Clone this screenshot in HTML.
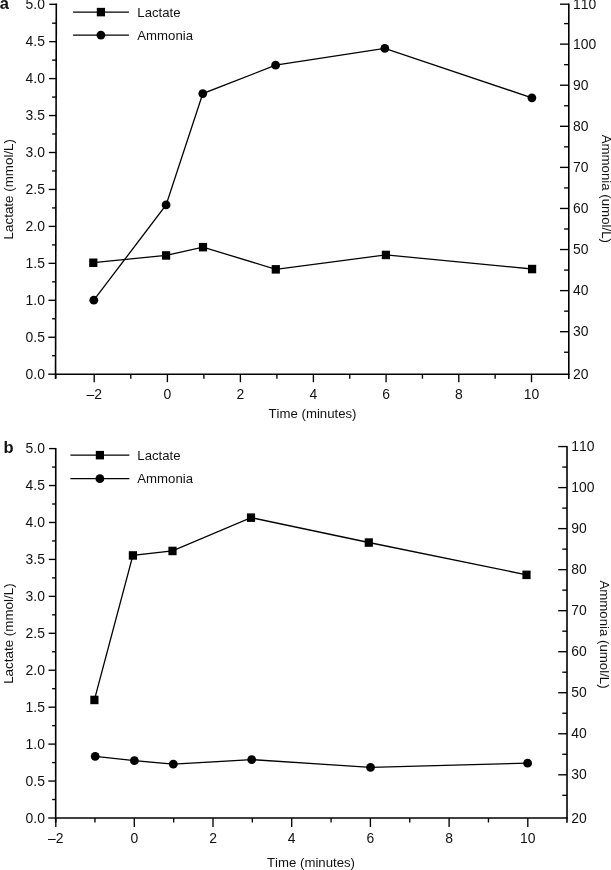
<!DOCTYPE html>
<html lang="en">
<head>
<meta charset="utf-8">
<title>Lactate and Ammonia over time</title>
<style>
html,body{margin:0;padding:0;background:#fff;}
body{width:611px;height:870px;overflow:hidden;}
svg{display:block;}
svg text{font-family:"Liberation Sans",Arial,Helvetica,sans-serif;font-size:13.2px;fill:#111;font-kerning:none;}
svg text.tk{font-size:13.9px;}
svg text.ti{font-size:13.4px;}
svg text.tr{font-size:13.25px;}
</style>
</head>
<body>
<svg width="611" height="870" viewBox="0 0 611 870" stroke="#000">
<rect x="0" y="0" width="611" height="870" fill="#fff" stroke="none"/>
<g stroke="#000" fill="#111">
<line x1="56.3" y1="3.62" x2="55.55" y2="378.7" stroke-width="1.6" stroke-linecap="butt"/>
<line x1="568.8" y1="3.53" x2="568.8" y2="379" stroke-width="1.6" stroke-linecap="butt"/>
<line x1="54.85" y1="374.2" x2="569.5" y2="374.2" stroke-width="1.6" stroke-linecap="butt"/>
<line x1="48.2" y1="374.2" x2="55.85" y2="374.2" stroke-width="1.35" stroke-linecap="butt"/>
<text stroke="none" x="44.9" y="378.8" text-anchor="end" class="tk">0.0</text>
<line x1="52.1" y1="355.72" x2="55.89" y2="355.72" stroke-width="1.35" stroke-linecap="butt"/>
<line x1="48.31" y1="337.25" x2="55.92" y2="337.25" stroke-width="1.35" stroke-linecap="butt"/>
<text stroke="none" x="44.9" y="341.85" text-anchor="end" class="tk">0.5</text>
<line x1="52.1" y1="318.77" x2="55.96" y2="318.77" stroke-width="1.35" stroke-linecap="butt"/>
<line x1="48.42" y1="300.3" x2="56" y2="300.3" stroke-width="1.35" stroke-linecap="butt"/>
<text stroke="none" x="44.9" y="304.9" text-anchor="end" class="tk">1.0</text>
<line x1="52.1" y1="281.82" x2="56.04" y2="281.82" stroke-width="1.35" stroke-linecap="butt"/>
<line x1="48.53" y1="263.35" x2="56.07" y2="263.35" stroke-width="1.35" stroke-linecap="butt"/>
<text stroke="none" x="44.9" y="267.95" text-anchor="end" class="tk">1.5</text>
<line x1="52.1" y1="244.88" x2="56.11" y2="244.88" stroke-width="1.35" stroke-linecap="butt"/>
<line x1="48.64" y1="226.4" x2="56.15" y2="226.4" stroke-width="1.35" stroke-linecap="butt"/>
<text stroke="none" x="44.9" y="231" text-anchor="end" class="tk">2.0</text>
<line x1="52.1" y1="207.92" x2="56.19" y2="207.92" stroke-width="1.35" stroke-linecap="butt"/>
<line x1="48.75" y1="189.45" x2="56.22" y2="189.45" stroke-width="1.35" stroke-linecap="butt"/>
<text stroke="none" x="44.9" y="194.05" text-anchor="end" class="tk">2.5</text>
<line x1="52.1" y1="170.97" x2="56.26" y2="170.97" stroke-width="1.35" stroke-linecap="butt"/>
<line x1="48.86" y1="152.5" x2="56.3" y2="152.5" stroke-width="1.35" stroke-linecap="butt"/>
<text stroke="none" x="44.9" y="157.1" text-anchor="end" class="tk">3.0</text>
<line x1="52.1" y1="134.02" x2="56.34" y2="134.02" stroke-width="1.35" stroke-linecap="butt"/>
<line x1="48.97" y1="115.55" x2="56.37" y2="115.55" stroke-width="1.35" stroke-linecap="butt"/>
<text stroke="none" x="44.9" y="120.15" text-anchor="end" class="tk">3.5</text>
<line x1="52.1" y1="97.07" x2="56.41" y2="97.07" stroke-width="1.35" stroke-linecap="butt"/>
<line x1="49.08" y1="78.6" x2="56.45" y2="78.6" stroke-width="1.35" stroke-linecap="butt"/>
<text stroke="none" x="44.9" y="83.2" text-anchor="end" class="tk">4.0</text>
<line x1="52.1" y1="60.12" x2="56.49" y2="60.12" stroke-width="1.35" stroke-linecap="butt"/>
<line x1="49.19" y1="41.65" x2="56.52" y2="41.65" stroke-width="1.35" stroke-linecap="butt"/>
<text stroke="none" x="44.9" y="46.25" text-anchor="end" class="tk">4.5</text>
<line x1="52.1" y1="23.18" x2="56.56" y2="23.18" stroke-width="1.35" stroke-linecap="butt"/>
<line x1="49.3" y1="4.3" x2="56.6" y2="4.3" stroke-width="1.35" stroke-linecap="butt"/>
<text stroke="none" x="44.9" y="8.9" text-anchor="end" class="tk">5.0</text>
<text stroke="none" x="573.1" y="378.65" text-anchor="start" class="tk">20</text>
<line x1="564.1" y1="352.24" x2="568.8" y2="352.24" stroke-width="1.35" stroke-linecap="butt"/>
<line x1="560" y1="331.7" x2="568.8" y2="331.7" stroke-width="1.35" stroke-linecap="butt"/>
<text stroke="none" x="573.1" y="336.35" text-anchor="start" class="tk">30</text>
<line x1="564.1" y1="311.16" x2="568.8" y2="311.16" stroke-width="1.35" stroke-linecap="butt"/>
<line x1="560" y1="290.62" x2="568.8" y2="290.62" stroke-width="1.35" stroke-linecap="butt"/>
<text stroke="none" x="573.1" y="295.27" text-anchor="start" class="tk">40</text>
<line x1="564.1" y1="270.08" x2="568.8" y2="270.08" stroke-width="1.35" stroke-linecap="butt"/>
<line x1="560" y1="249.54" x2="568.8" y2="249.54" stroke-width="1.35" stroke-linecap="butt"/>
<text stroke="none" x="573.1" y="254.19" text-anchor="start" class="tk">50</text>
<line x1="564.1" y1="229" x2="568.8" y2="229" stroke-width="1.35" stroke-linecap="butt"/>
<line x1="560" y1="208.46" x2="568.8" y2="208.46" stroke-width="1.35" stroke-linecap="butt"/>
<text stroke="none" x="573.1" y="213.11" text-anchor="start" class="tk">60</text>
<line x1="564.1" y1="187.92" x2="568.8" y2="187.92" stroke-width="1.35" stroke-linecap="butt"/>
<line x1="560" y1="167.38" x2="568.8" y2="167.38" stroke-width="1.35" stroke-linecap="butt"/>
<text stroke="none" x="573.1" y="172.03" text-anchor="start" class="tk">70</text>
<line x1="564.1" y1="146.84" x2="568.8" y2="146.84" stroke-width="1.35" stroke-linecap="butt"/>
<line x1="560" y1="126.3" x2="568.8" y2="126.3" stroke-width="1.35" stroke-linecap="butt"/>
<text stroke="none" x="573.1" y="130.95" text-anchor="start" class="tk">80</text>
<line x1="564.1" y1="105.76" x2="568.8" y2="105.76" stroke-width="1.35" stroke-linecap="butt"/>
<line x1="560" y1="85.22" x2="568.8" y2="85.22" stroke-width="1.35" stroke-linecap="butt"/>
<text stroke="none" x="573.1" y="89.87" text-anchor="start" class="tk">90</text>
<line x1="564.1" y1="64.68" x2="568.8" y2="64.68" stroke-width="1.35" stroke-linecap="butt"/>
<line x1="560" y1="44.14" x2="568.8" y2="44.14" stroke-width="1.35" stroke-linecap="butt"/>
<text stroke="none" x="573.1" y="48.79" text-anchor="start" class="tk">100</text>
<line x1="564.1" y1="23.6" x2="568.8" y2="23.6" stroke-width="1.35" stroke-linecap="butt"/>
<line x1="560" y1="4.2" x2="568.8" y2="4.2" stroke-width="1.35" stroke-linecap="butt"/>
<text stroke="none" x="573.1" y="8.85" text-anchor="start" class="tk">110</text>
<line x1="55.7" y1="374.2" x2="55.7" y2="378.7" stroke-width="1.35" stroke-linecap="butt"/>
<line x1="94.2" y1="374.2" x2="94.2" y2="382.2" stroke-width="1.35" stroke-linecap="butt"/>
<text stroke="none" x="94.2" y="398.8" text-anchor="middle" class="tk">–2</text>
<line x1="130.8" y1="374.2" x2="130.8" y2="378.7" stroke-width="1.35" stroke-linecap="butt"/>
<line x1="167.4" y1="374.2" x2="167.4" y2="382.2" stroke-width="1.35" stroke-linecap="butt"/>
<text stroke="none" x="167.4" y="398.8" text-anchor="middle" class="tk">0</text>
<line x1="203.9" y1="374.2" x2="203.9" y2="378.7" stroke-width="1.35" stroke-linecap="butt"/>
<line x1="240.4" y1="374.2" x2="240.4" y2="382.2" stroke-width="1.35" stroke-linecap="butt"/>
<text stroke="none" x="240.4" y="398.8" text-anchor="middle" class="tk">2</text>
<line x1="276.9" y1="374.2" x2="276.9" y2="378.7" stroke-width="1.35" stroke-linecap="butt"/>
<line x1="313.4" y1="374.2" x2="313.4" y2="382.2" stroke-width="1.35" stroke-linecap="butt"/>
<text stroke="none" x="313.4" y="398.8" text-anchor="middle" class="tk">4</text>
<line x1="349.75" y1="374.2" x2="349.75" y2="378.7" stroke-width="1.35" stroke-linecap="butt"/>
<line x1="386.1" y1="374.2" x2="386.1" y2="382.2" stroke-width="1.35" stroke-linecap="butt"/>
<text stroke="none" x="386.1" y="398.8" text-anchor="middle" class="tk">6</text>
<line x1="422.45" y1="374.2" x2="422.45" y2="378.7" stroke-width="1.35" stroke-linecap="butt"/>
<line x1="458.8" y1="374.2" x2="458.8" y2="382.2" stroke-width="1.35" stroke-linecap="butt"/>
<text stroke="none" x="458.8" y="398.8" text-anchor="middle" class="tk">8</text>
<line x1="495.15" y1="374.2" x2="495.15" y2="378.7" stroke-width="1.35" stroke-linecap="butt"/>
<line x1="531.5" y1="374.2" x2="531.5" y2="382.2" stroke-width="1.35" stroke-linecap="butt"/>
<text stroke="none" x="531.5" y="398.8" text-anchor="middle" class="tk">10</text>
<polyline fill="none" stroke-width="1.3" points="93.3,262.7 166.1,255.4 203,247.1 275.8,269.3 385.9,254.9 532.1,269"/>
<rect x="89.2" y="258.5" width="8.2" height="8.5" fill="#000" stroke="none"/>
<rect x="162" y="251.2" width="8.2" height="8.5" fill="#000" stroke="none"/>
<rect x="198.9" y="242.9" width="8.2" height="8.5" fill="#000" stroke="none"/>
<rect x="271.7" y="265.1" width="8.2" height="8.5" fill="#000" stroke="none"/>
<rect x="381.8" y="250.7" width="8.2" height="8.5" fill="#000" stroke="none"/>
<rect x="528" y="264.8" width="8.2" height="8.5" fill="#000" stroke="none"/>
<polyline fill="none" stroke-width="1.3" points="93.8,300.2 166.1,204.9 202.8,93.6 275.6,65.2 384.8,48.4 531.9,97.8"/>
<circle cx="93.8" cy="300.2" r="4.4" fill="#000" stroke="none"/>
<circle cx="166.1" cy="204.9" r="4.4" fill="#000" stroke="none"/>
<circle cx="202.8" cy="93.6" r="4.4" fill="#000" stroke="none"/>
<circle cx="275.6" cy="65.2" r="4.4" fill="#000" stroke="none"/>
<circle cx="384.8" cy="48.4" r="4.4" fill="#000" stroke="none"/>
<circle cx="531.9" cy="97.8" r="4.4" fill="#000" stroke="none"/>
<line x1="73.1" y1="12.05" x2="128.9" y2="12.05" stroke-width="1.3" stroke-linecap="butt"/>
<line x1="73.1" y1="35.1" x2="128.9" y2="35.1" stroke-width="1.3" stroke-linecap="butt"/>
<rect x="96.8" y="7.85" width="8.2" height="8.5" fill="#000" stroke="none"/>
<circle cx="100.9" cy="35.1" r="4.4" fill="#000" stroke="none"/>
<text stroke="none" x="137.3" y="16.5" text-anchor="start">Lactate</text>
<text stroke="none" x="137.3" y="39.5" text-anchor="start">Ammonia</text>
<text stroke="none" x="312.5" y="418.2" text-anchor="middle">Time (minutes)</text>
<text stroke="none" transform="translate(12.9,189.2) rotate(-90)" text-anchor="middle" class="ti">Lactate (mmol/L)</text>
<text stroke="none" transform="translate(601.5,188.8) rotate(90)" text-anchor="middle" class="tr">Ammonia (umol/L)</text>
<text stroke="none" x="-0.3" y="8.7" style="font-weight:bold;font-size:16.5px">a</text>
<line x1="55.75" y1="447.93" x2="55.7" y2="822.5" stroke-width="1.6" stroke-linecap="butt"/>
<line x1="567" y1="445.93" x2="567" y2="822.8" stroke-width="1.6" stroke-linecap="butt"/>
<line x1="55" y1="818" x2="567.7" y2="818" stroke-width="1.6" stroke-linecap="butt"/>
<line x1="48.2" y1="818" x2="56" y2="818" stroke-width="1.35" stroke-linecap="butt"/>
<text stroke="none" x="44.9" y="822.6" text-anchor="end" class="tk">0.0</text>
<line x1="52.1" y1="799.53" x2="56" y2="799.53" stroke-width="1.35" stroke-linecap="butt"/>
<line x1="48.29" y1="781.06" x2="56.01" y2="781.06" stroke-width="1.35" stroke-linecap="butt"/>
<text stroke="none" x="44.9" y="785.66" text-anchor="end" class="tk">0.5</text>
<line x1="52.1" y1="762.59" x2="56.01" y2="762.59" stroke-width="1.35" stroke-linecap="butt"/>
<line x1="48.38" y1="744.12" x2="56.01" y2="744.12" stroke-width="1.35" stroke-linecap="butt"/>
<text stroke="none" x="44.9" y="748.72" text-anchor="end" class="tk">1.0</text>
<line x1="52.1" y1="725.65" x2="56.01" y2="725.65" stroke-width="1.35" stroke-linecap="butt"/>
<line x1="48.47" y1="707.18" x2="56.02" y2="707.18" stroke-width="1.35" stroke-linecap="butt"/>
<text stroke="none" x="44.9" y="711.78" text-anchor="end" class="tk">1.5</text>
<line x1="52.1" y1="688.71" x2="56.02" y2="688.71" stroke-width="1.35" stroke-linecap="butt"/>
<line x1="48.56" y1="670.24" x2="56.02" y2="670.24" stroke-width="1.35" stroke-linecap="butt"/>
<text stroke="none" x="44.9" y="674.84" text-anchor="end" class="tk">2.0</text>
<line x1="52.1" y1="651.77" x2="56.02" y2="651.77" stroke-width="1.35" stroke-linecap="butt"/>
<line x1="48.65" y1="633.3" x2="56.02" y2="633.3" stroke-width="1.35" stroke-linecap="butt"/>
<text stroke="none" x="44.9" y="637.9" text-anchor="end" class="tk">2.5</text>
<line x1="52.1" y1="614.83" x2="56.03" y2="614.83" stroke-width="1.35" stroke-linecap="butt"/>
<line x1="48.74" y1="596.36" x2="56.03" y2="596.36" stroke-width="1.35" stroke-linecap="butt"/>
<text stroke="none" x="44.9" y="600.96" text-anchor="end" class="tk">3.0</text>
<line x1="52.1" y1="577.89" x2="56.03" y2="577.89" stroke-width="1.35" stroke-linecap="butt"/>
<line x1="48.83" y1="559.42" x2="56.03" y2="559.42" stroke-width="1.35" stroke-linecap="butt"/>
<text stroke="none" x="44.9" y="564.02" text-anchor="end" class="tk">3.5</text>
<line x1="52.1" y1="540.95" x2="56.04" y2="540.95" stroke-width="1.35" stroke-linecap="butt"/>
<line x1="48.92" y1="522.48" x2="56.04" y2="522.48" stroke-width="1.35" stroke-linecap="butt"/>
<text stroke="none" x="44.9" y="527.08" text-anchor="end" class="tk">4.0</text>
<line x1="52.1" y1="504.01" x2="56.04" y2="504.01" stroke-width="1.35" stroke-linecap="butt"/>
<line x1="49.01" y1="485.54" x2="56.05" y2="485.54" stroke-width="1.35" stroke-linecap="butt"/>
<text stroke="none" x="44.9" y="490.14" text-anchor="end" class="tk">4.5</text>
<line x1="52.1" y1="467.07" x2="56.05" y2="467.07" stroke-width="1.35" stroke-linecap="butt"/>
<line x1="49.1" y1="448.6" x2="56.05" y2="448.6" stroke-width="1.35" stroke-linecap="butt"/>
<text stroke="none" x="44.9" y="453.2" text-anchor="end" class="tk">5.0</text>
<text stroke="none" x="571.3" y="822.85" text-anchor="start" class="tk">20</text>
<line x1="562.3" y1="795.31" x2="567" y2="795.31" stroke-width="1.35" stroke-linecap="butt"/>
<line x1="558.2" y1="774.8" x2="567" y2="774.8" stroke-width="1.35" stroke-linecap="butt"/>
<text stroke="none" x="571.3" y="779.45" text-anchor="start" class="tk">30</text>
<line x1="562.3" y1="754.28" x2="567" y2="754.28" stroke-width="1.35" stroke-linecap="butt"/>
<line x1="558.2" y1="733.77" x2="567" y2="733.77" stroke-width="1.35" stroke-linecap="butt"/>
<text stroke="none" x="571.3" y="738.42" text-anchor="start" class="tk">40</text>
<line x1="562.3" y1="713.25" x2="567" y2="713.25" stroke-width="1.35" stroke-linecap="butt"/>
<line x1="558.2" y1="692.74" x2="567" y2="692.74" stroke-width="1.35" stroke-linecap="butt"/>
<text stroke="none" x="571.3" y="697.39" text-anchor="start" class="tk">50</text>
<line x1="562.3" y1="672.22" x2="567" y2="672.22" stroke-width="1.35" stroke-linecap="butt"/>
<line x1="558.2" y1="651.71" x2="567" y2="651.71" stroke-width="1.35" stroke-linecap="butt"/>
<text stroke="none" x="571.3" y="656.36" text-anchor="start" class="tk">60</text>
<line x1="562.3" y1="631.19" x2="567" y2="631.19" stroke-width="1.35" stroke-linecap="butt"/>
<line x1="558.2" y1="610.68" x2="567" y2="610.68" stroke-width="1.35" stroke-linecap="butt"/>
<text stroke="none" x="571.3" y="615.33" text-anchor="start" class="tk">70</text>
<line x1="562.3" y1="590.16" x2="567" y2="590.16" stroke-width="1.35" stroke-linecap="butt"/>
<line x1="558.2" y1="569.65" x2="567" y2="569.65" stroke-width="1.35" stroke-linecap="butt"/>
<text stroke="none" x="571.3" y="574.3" text-anchor="start" class="tk">80</text>
<line x1="562.3" y1="549.13" x2="567" y2="549.13" stroke-width="1.35" stroke-linecap="butt"/>
<line x1="558.2" y1="528.62" x2="567" y2="528.62" stroke-width="1.35" stroke-linecap="butt"/>
<text stroke="none" x="571.3" y="533.27" text-anchor="start" class="tk">90</text>
<line x1="562.3" y1="508.1" x2="567" y2="508.1" stroke-width="1.35" stroke-linecap="butt"/>
<line x1="558.2" y1="487.59" x2="567" y2="487.59" stroke-width="1.35" stroke-linecap="butt"/>
<text stroke="none" x="571.3" y="492.24" text-anchor="start" class="tk">100</text>
<line x1="562.3" y1="467.07" x2="567" y2="467.07" stroke-width="1.35" stroke-linecap="butt"/>
<line x1="558.2" y1="446.56" x2="567" y2="446.56" stroke-width="1.35" stroke-linecap="butt"/>
<text stroke="none" x="571.3" y="451.21" text-anchor="start" class="tk">110</text>
<line x1="55.8" y1="818" x2="55.8" y2="826.9" stroke-width="1.35" stroke-linecap="butt"/>
<text stroke="none" x="55.8" y="843.3" text-anchor="middle" class="tk">–2</text>
<line x1="94.95" y1="818" x2="94.95" y2="822.5" stroke-width="1.35" stroke-linecap="butt"/>
<line x1="134.3" y1="818" x2="134.3" y2="826.9" stroke-width="1.35" stroke-linecap="butt"/>
<text stroke="none" x="134.3" y="843.3" text-anchor="middle" class="tk">0</text>
<line x1="173.65" y1="818" x2="173.65" y2="822.5" stroke-width="1.35" stroke-linecap="butt"/>
<line x1="213" y1="818" x2="213" y2="826.9" stroke-width="1.35" stroke-linecap="butt"/>
<text stroke="none" x="213" y="843.3" text-anchor="middle" class="tk">2</text>
<line x1="252.35" y1="818" x2="252.35" y2="822.5" stroke-width="1.35" stroke-linecap="butt"/>
<line x1="291.7" y1="818" x2="291.7" y2="826.9" stroke-width="1.35" stroke-linecap="butt"/>
<text stroke="none" x="291.7" y="843.3" text-anchor="middle" class="tk">4</text>
<line x1="331.05" y1="818" x2="331.05" y2="822.5" stroke-width="1.35" stroke-linecap="butt"/>
<line x1="370.4" y1="818" x2="370.4" y2="826.9" stroke-width="1.35" stroke-linecap="butt"/>
<text stroke="none" x="370.4" y="843.3" text-anchor="middle" class="tk">6</text>
<line x1="409.75" y1="818" x2="409.75" y2="822.5" stroke-width="1.35" stroke-linecap="butt"/>
<line x1="449.1" y1="818" x2="449.1" y2="826.9" stroke-width="1.35" stroke-linecap="butt"/>
<text stroke="none" x="449.1" y="843.3" text-anchor="middle" class="tk">8</text>
<line x1="488.45" y1="818" x2="488.45" y2="822.5" stroke-width="1.35" stroke-linecap="butt"/>
<line x1="527.8" y1="818" x2="527.8" y2="826.9" stroke-width="1.35" stroke-linecap="butt"/>
<text stroke="none" x="527.8" y="843.3" text-anchor="middle" class="tk">10</text>
<polyline fill="none" stroke-width="1.3" points="94.4,699.9 132.9,555.4 172.5,550.9 251,517.6 368.8,542.5 526.5,574.8"/>
<rect x="90.3" y="695.7" width="8.2" height="8.5" fill="#000" stroke="none"/>
<rect x="128.8" y="551.2" width="8.2" height="8.5" fill="#000" stroke="none"/>
<rect x="168.4" y="546.7" width="8.2" height="8.5" fill="#000" stroke="none"/>
<rect x="246.9" y="513.4" width="8.2" height="8.5" fill="#000" stroke="none"/>
<rect x="364.7" y="538.3" width="8.2" height="8.5" fill="#000" stroke="none"/>
<rect x="522.4" y="570.6" width="8.2" height="8.5" fill="#000" stroke="none"/>
<polyline fill="none" stroke-width="1.3" points="95.2,756.4 134.4,760.7 173.3,764.2 251.7,759.6 370.5,767.4 527.6,763.2"/>
<circle cx="95.2" cy="756.4" r="4.4" fill="#000" stroke="none"/>
<circle cx="134.4" cy="760.7" r="4.4" fill="#000" stroke="none"/>
<circle cx="173.3" cy="764.2" r="4.4" fill="#000" stroke="none"/>
<circle cx="251.7" cy="759.6" r="4.4" fill="#000" stroke="none"/>
<circle cx="370.5" cy="767.4" r="4.4" fill="#000" stroke="none"/>
<circle cx="527.6" cy="763.2" r="4.4" fill="#000" stroke="none"/>
<line x1="70.4" y1="455.1" x2="129.4" y2="455.1" stroke-width="1.3" stroke-linecap="butt"/>
<line x1="70.4" y1="478.7" x2="129.4" y2="478.7" stroke-width="1.3" stroke-linecap="butt"/>
<rect x="95.8" y="450.9" width="8.2" height="8.5" fill="#000" stroke="none"/>
<circle cx="99.9" cy="478.7" r="4.4" fill="#000" stroke="none"/>
<text stroke="none" x="137.3" y="459.6" text-anchor="start">Lactate</text>
<text stroke="none" x="137.3" y="482.7" text-anchor="start">Ammonia</text>
<text stroke="none" x="311" y="866.8" text-anchor="middle">Time (minutes)</text>
<text stroke="none" transform="translate(13.1,633.6) rotate(-90)" text-anchor="middle" class="ti">Lactate (mmol/L)</text>
<text stroke="none" transform="translate(600.1,634.5) rotate(90)" text-anchor="middle" class="tr">Ammonia (umol/L)</text>
<text stroke="none" x="3.6" y="453.1" style="font-weight:bold;font-size:16.5px">b</text>
</g>
</svg>
</body>
</html>
